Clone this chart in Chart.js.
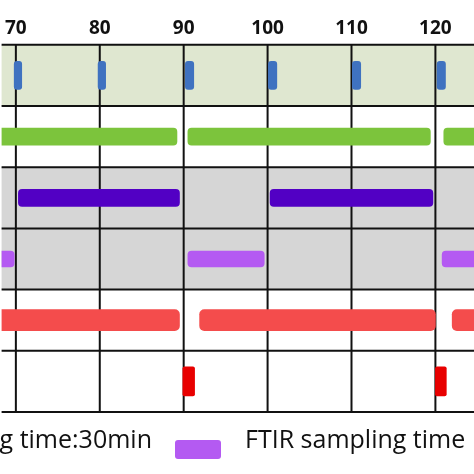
<!DOCTYPE html>
<html lang="en">
<head>
<meta charset="UTF-8" />
<title>Sampling schedule</title>
<script src="https://cdn.jsdelivr.net/npm/chart.js@4.4.1/dist/chart.umd.min.js"></script>
<style>
  body { margin:0; width:474px; height:474px; overflow:hidden; background:#fff; position:relative; font-family:"Open Sans", sans-serif; }
  #wrap { position:absolute; left:0; top:0; width:474px; height:474px; }
  .leg { position:absolute; top:421px; font-size:25px; color:#111; white-space:nowrap; }
</style>
</head>
<body>
<div id="wrap"><canvas id="canvas"></canvas></div>
<div class="leg" style="right:322px;">Sampling time:30min</div>
<div style="position:absolute;left:175px;top:440px;width:46px;height:19px;background:#b45af2;border-radius:3px;"></div>
<div class="leg" style="left:245px;">FTIR sampling time</div>
<script>
// rows, top to bottom
let rows = ['r1', 'r2', 'r3', 'r4', 'r5', 'r6'];
let rowColors = ['#dfe7d0', '#ffffff', '#d6d6d6', '#d6d6d6', '#ffffff', '#ffffff'];
let xTicks = [70, 80, 90, 100, 110, 120];

// segments per row [start, end]
let blueMarks   = [[69.8, 70.7], [79.8, 80.7], [90.2, 91.2], [100.1, 101.1], [110.1, 111.1], [120.2, 121.2]];
let greenBars   = [[67.5, 89.2], [90.5, 119.4], [121.0, 126]];
let purpleBars  = [[70.3, 89.5], [100.3, 119.7]];
let lilacBars   = [[67.5, 69.8], [90.5, 99.6], [120.8, 126]];
let redBars     = [[67.5, 89.5], [91.9, 120.0], [122.0, 126]];
let darkRedMarks = [[89.9, 91.3], [120.0, 121.3]];

function seg(list, row) {
  return list.map(function (s) { return { x: s, y: row }; });
}

let datasets = [
  { data: seg(blueMarks, 'r1'), backgroundColor: '#3f72c0', barThickness: 28, borderRadius: 3, borderSkipped: false },
  { data: seg(greenBars, 'r2'), backgroundColor: '#7cc43c', barThickness: 17, borderRadius: 4, borderSkipped: false },
  { data: seg(purpleBars, 'r3'), backgroundColor: '#5200c4', barThickness: 17, borderRadius: 4, borderSkipped: false },
  { data: seg(lilacBars, 'r4'), backgroundColor: '#b45af2', barThickness: 16, borderRadius: 4, borderSkipped: false },
  { data: seg(redBars, 'r5'), backgroundColor: '#f44c4c', barThickness: 21, borderRadius: 5, borderSkipped: false },
  { data: seg(darkRedMarks, 'r6'), backgroundColor: '#e80000', barThickness: 29, borderRadius: 2, borderSkipped: false }
];

// row backgrounds and grid lines
let rowBands = {
  id: 'rowBands',
  beforeDatasetsDraw: function (chart) {
    let ctx = chart.ctx, area = chart.chartArea;
    let h = (area.bottom - area.top) / rows.length;
    ctx.save();
    for (let i = 0; i < rows.length; i++) {
      ctx.fillStyle = rowColors[i];
      ctx.fillRect(area.left, area.top + i * h, area.right - area.left, h);
    }
    ctx.strokeStyle = '#111';
    ctx.lineWidth = 2;
    xTicks.forEach(function (t) {
      let px = chart.scales.x.getPixelForValue(t);
      ctx.beginPath(); ctx.moveTo(px, area.top); ctx.lineTo(px, area.bottom); ctx.stroke();
    });
    for (let i = 0; i <= rows.length; i++) {
      let py = area.top + i * h;
      ctx.beginPath(); ctx.moveTo(area.left, py); ctx.lineTo(area.right, py); ctx.stroke();
    }
    ctx.restore();
  }
};

new Chart(document.getElementById('canvas'), {
  type: 'bar',
  data: { labels: rows, datasets: datasets },
  options: {
    indexAxis: 'y',
    responsive: true,
    maintainAspectRatio: false,
    animation: false,
    grouped: false,
    layout: { padding: { top: 12, bottom: 62, left: 0, right: 0 } },
    plugins: { legend: { display: false }, tooltip: { enabled: false } },
    scales: {
      x: {
        position: 'top',
        min: 68.3,
        max: 124.6,
        afterBuildTicks: function (axis) { axis.ticks = xTicks.map(function (v) { return { value: v }; }); },
        grid: { display: false, drawTicks: false },
        border: { display: false },
        ticks: { color: '#111', font: { family: 'Open Sans', size: 19, weight: 'bold' }, padding: 5, maxRotation: 0 }
      },
      y: {
        display: false,
        offset: true
      }
    }
  },
  plugins: [rowBands]
});
</script>
</body>
</html>
